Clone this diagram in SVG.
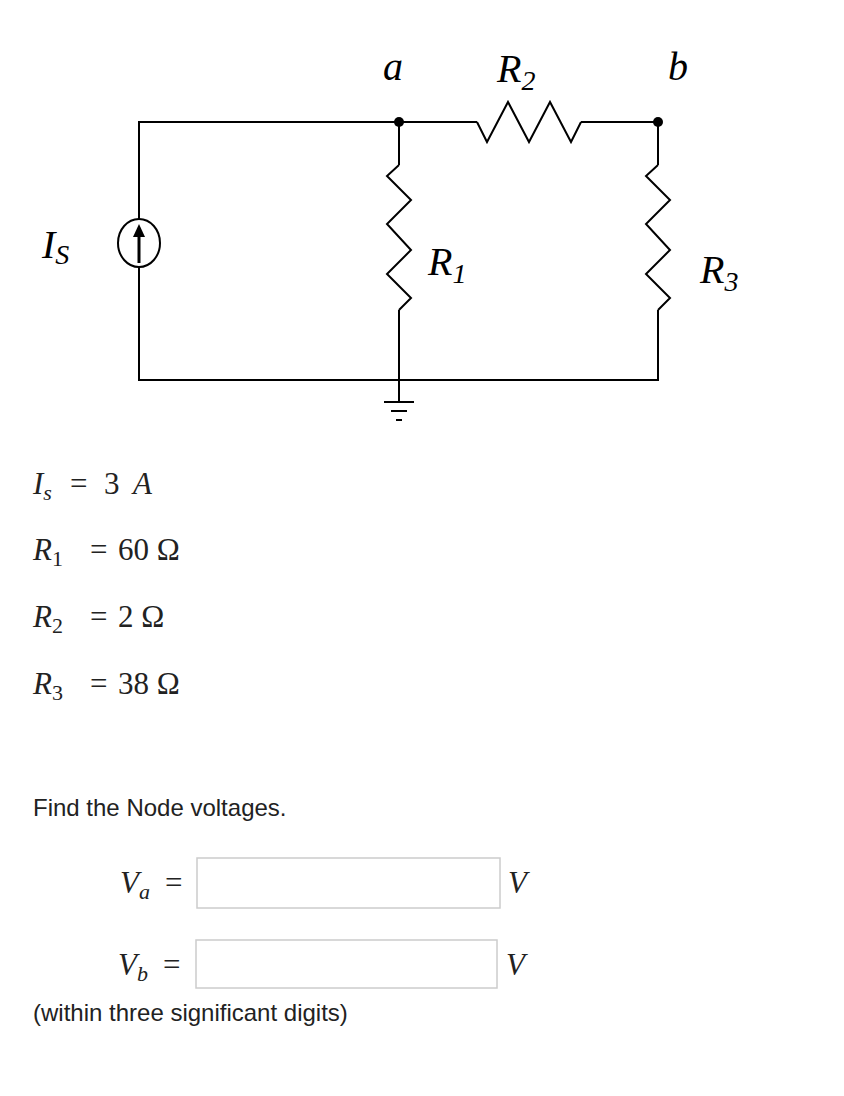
<svg xmlns="http://www.w3.org/2000/svg" width="844" height="1096" viewBox="0 0 844 1096">
<style>
.w{fill:none;stroke:#000;stroke-width:2}
.lbl{font-family:"Liberation Serif",serif;font-style:italic;font-size:40px;fill:#000}
.sub{font-family:"Liberation Serif",serif;font-size:28px;fill:#000}
.m{font-family:"Liberation Serif",serif;font-size:31px;fill:#222}
.mi{font-style:italic}
.t{font-family:"Liberation Sans",Arial,sans-serif;font-size:24px;fill:#222}
.box{fill:#fff;stroke:#ccc;stroke-width:1.5}
</style>
<rect width="844" height="1096" fill="#fff"/>
<g id="connectors">
<path class="w" d="M399,165 V122 H139 V219 M139,267 V380 H658 V310 M658,165 V122 M399,310 V402 M399,122 H477 M581,122 H658"/>
</g>
<g id="source"><ellipse class="w" cx="139" cy="243" rx="21" ry="24"/><path d="M139,263 V232" stroke="#000" stroke-width="3"/><path d="M133,237 L139,224 L145,237 Z" fill="#000"/><text class="lbl" x="42" y="258">I<tspan class="sub" dy="6" font-style="italic">S</tspan></text></g>
<g id="R1"><path class="w" d="M399,165 L387,176 L411,200 L387,224 L411,250 L387,274 L411,298 L399,310"/><text class="lbl" x="428" y="275">R<tspan class="sub" dy="8">1</tspan></text></g>
<g id="R2"><path class="w" d="M477,122 L487,142 L508,102 L529,142 L550,102 L571,142 L581,122"/><text class="lbl" x="497" y="82">R<tspan class="sub" dy="8">2</tspan></text></g>
<g id="R3"><path class="w" d="M658,165 L646,176 L670,200 L646,224 L670,250 L646,274 L670,298 L658,310"/><text class="lbl" x="700" y="283">R<tspan class="sub" dy="8">3</tspan></text></g>
<g id="nodeA"><circle cx="399" cy="122" r="5"/><text class="lbl" x="383" y="80">a</text></g>
<g id="nodeB"><circle cx="658" cy="122" r="5"/><text class="lbl" x="668" y="80">b</text></g>
<g id="ground"><path class="w" d="M384,402 H414 M391,411 H407 M396,420 H402"/></g>
<g id="values">
<text class="m" y="494"><tspan class="mi" x="33">I</tspan><tspan font-size="22" class="mi" dy="6">s</tspan><tspan dy="-6" x="70">=</tspan><tspan x="104">3</tspan><tspan class="mi" x="133">A</tspan></text>
<text class="m" y="560"><tspan class="mi" x="33">R</tspan><tspan font-size="22" dy="6">1</tspan><tspan dy="-6" x="90">=</tspan><tspan x="118">60 Ω</tspan></text>
<text class="m" y="627"><tspan class="mi" x="33">R</tspan><tspan font-size="22" dy="6">2</tspan><tspan dy="-6" x="90">=</tspan><tspan x="118">2 Ω</tspan></text>
<text class="m" y="694"><tspan class="mi" x="33">R</tspan><tspan font-size="22" dy="6">3</tspan><tspan dy="-6" x="90">=</tspan><tspan x="118">38 Ω</tspan></text>
<text class="t" x="33" y="816">Find the Node voltages.</text>
<text class="m" y="893"><tspan class="mi" x="120">V</tspan><tspan font-size="22" class="mi" dy="6">a</tspan><tspan dy="-6" x="165">=</tspan></text>
<rect class="box" x="197" y="858" width="303" height="50"/>
<text class="m mi" x="508" y="893">V</text>
<text class="m" y="975"><tspan class="mi" x="118">V</tspan><tspan font-size="22" class="mi" dy="6">b</tspan><tspan dy="-6" x="163">=</tspan></text>
<rect class="box" x="196" y="940" width="301" height="48"/>
<text class="m mi" x="506" y="975">V</text>
<text class="t" x="33" y="1021">(within three significant digits)</text>
</g>
</svg>
